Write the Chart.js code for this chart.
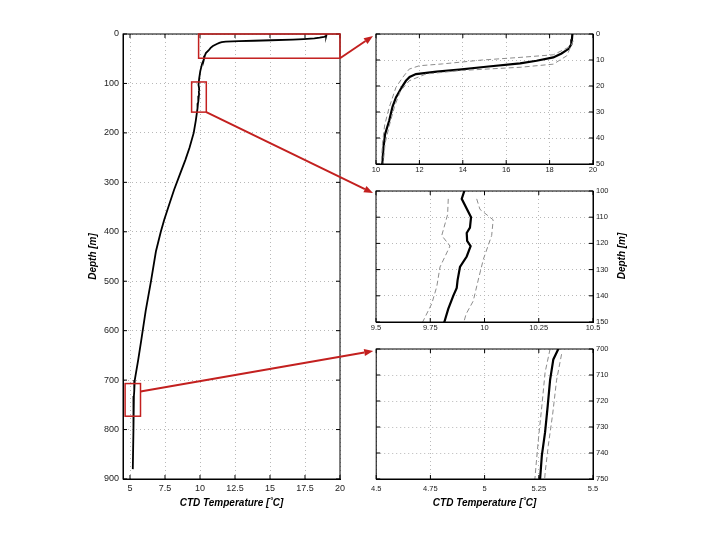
<!DOCTYPE html>
<html>
<head>
<meta charset="utf-8">
<script src="https://cdn.jsdelivr.net/npm/chart.js@4.4.1/dist/chart.umd.min.js"></script>
<style>
  body { margin: 0; background: #fff; }
  #page { position: relative; width: 720px; height: 540px; overflow: hidden; }
  .holder { position: absolute; }
  #arrows { position: absolute; left: 0; top: 0; pointer-events: none; }
  #depth_zoom2 {
    position: absolute; left: 621px; top: 256px; white-space: nowrap;
    font: italic bold 10px "Liberation Sans", Arial, sans-serif; color: #000;
    transform: translate(-50%, -50%) rotate(-90deg);
  }
</style>
</head>
<body>
<div id="page">
  <div class="holder" id="holder_main"><canvas id="chart_main"></canvas></div>
  <div class="holder" id="holder_z1"><canvas id="chart_z1"></canvas></div>
  <div class="holder" id="holder_z2"><canvas id="chart_z2"></canvas></div>
  <div class="holder" id="holder_z3"><canvas id="chart_z3"></canvas></div>
  <div id="depth_zoom2">Depth [m]</div>
  <canvas id="arrows" width="720" height="540"></canvas>
</div>
<script>
// CTD profile: depth (m) and mean temperature (deg C)
const depth = [0, 2, 4, 5.8, 7.5, 9, 10.3, 11.3, 12.6, 13.7, 14.5, 15.4, 16.5, 18, 20.3, 24.4, 28, 33.3, 38.5, 44,
  50, 60, 75, 90, 100, 103, 110, 114, 116, 119, 121, 125, 129, 134, 137, 140, 145, 150, 175, 200,
  230, 255, 285, 315, 345, 375, 400, 440, 500, 560, 620, 660, 700, 704, 712, 722, 732, 741, 750, 800, 880];
const temp = [19.05, 19.03, 19.0, 18.86, 18.55, 18.17, 17.4, 16.64, 15.07, 13.84, 12.8, 11.84, 11.55, 11.38, 11.2, 10.92, 10.76, 10.61, 10.42, 10.34,
  10.29, 10.15, 10.02, 9.94, 9.907, 9.895, 9.938, 9.933, 9.918, 9.92, 9.936, 9.918, 9.887, 9.876, 9.872, 9.856, 9.833, 9.815, 9.7, 9.55,
  9.25, 8.95, 8.55, 8.15, 7.8, 7.45, 7.2, 6.85, 6.5, 6.12, 5.8, 5.58, 5.34, 5.317, 5.302, 5.291, 5.279, 5.264, 5.256, 5.22, 5.2];

// grey dashed spread lines (only read inside the zoom windows), null = break
const coldDepth = [5, 8, 9, 10, 11.5, 12.2, 13.5, 16.7, 20.5, 28.2, 35, 42, 50, null,
  103, 109, 117, 121, 129, 136.5, 143, 150, null,
  700, 709, 722, 734, 745, 750];
const coldTemp = [18.9, 18.17, 16.64, 14.9, 13.07, 12.0, 11.53, 11.23, 10.92, 10.61, 10.4, 10.3, 10.24, null,
  9.833, 9.83, 9.803, 9.841, 9.795, 9.78, 9.757, 9.715, null,
  5.302, 5.279, 5.264, 5.249, 5.237, 5.232];
const warmDepth = [2.6, 8.4, 11.6, 12.8, 13.5, 14.1, 15.4, 18, 22, 28, 35, 42, 50, null,
  103, 107, 111, 117, 126, 134, 142, 147, 150, null,
  702, 712, 725, 737, 747, 750];
const warmTemp = [19.09, 18.79, 18.17, 16.64, 15.07, 13.84, 12.3, 11.53, 11.12, 10.85, 10.62, 10.42, 10.33, null,
  9.964, 9.979, 10.04, 10.033, 9.995, 9.971, 9.948, 9.915, 9.905, null,
  5.355, 5.332, 5.314, 5.294, 5.28, 5.277];

// tick labels
const mainTempTicks = [5, 7.5, 10, 12.5, 15, 17.5, 20];
const mainDepthTicks = [0, 100, 200, 300, 400, 500, 600, 700, 800, 900];
const zoomTempTicks = [
  [10, 12, 14, 16, 18, 20],
  [9.5, 9.75, 10, 10.25, 10.5],
  [4.5, 4.75, 5, 5.25, 5.5]
];
const zoomDepthTicks = [
  [0, 10, 20, 30, 40, 50],
  [100, 110, 120, 130, 140, 150],
  [700, 710, 720, 730, 740, 750]
];

// red boxes on the big plot: [tMin, tMax, dMin, dMax], and where each arrow leaves
const zoomBoxes = [[9.9, 20, 0, 49], [9.4, 10.45, 97, 158], [4.65, 5.75, 707, 773]];
const arrowFrom = [[20, 49], [10.45, 158], [5.75, 723]];

const FONT = '"Liberation Sans", Arial, Helvetica, sans-serif';
const RED = "#c3201f";
const TITLE_TEMP = "CTD Temperature [\u02DAC]";

function pts(ds, ts) {
  return ds.map((d, i) => (d === null ? { x: null, y: null } : { x: ts[i], y: d }));
}

function lastOf(a) { return a[a.length - 1]; }

function axis(pos, ticks, size, fontSize, pad, reverse, title) {
  return {
    type: "linear",
    position: pos,
    min: ticks[0],
    max: lastOf(ticks),
    reverse: reverse,
    afterBuildTicks: (s) => { s.ticks = ticks.map((v) => ({ value: v })); },
    afterFit: (s) => { if (s.isHorizontal()) s.height = size; else s.width = size; },
    grid: { color: "#b8b8b8", lineWidth: 1, drawTicks: false },
    border: { display: true, color: "#000", width: 1, dash: [1, 3] },
    ticks: {
      padding: pad, color: "#222", autoSkip: false, maxRotation: 0,
      font: { family: FONT, size: fontSize },
      callback: (v) => String(v)
    },
    title: title ? {
      display: true, text: title.text, color: "#000",
      font: { family: FONT, size: 10, style: "italic", weight: "bold" },
      padding: title.padding
    } : { display: false }
  };
}

// black frame with inward tick marks (matlab look)
const framePlugin = {
  id: "frame",
  afterDraw(chart) {
    const { ctx, chartArea: a } = chart;
    ctx.save();
    ctx.strokeStyle = "#000";
    ctx.lineWidth = 1;
    ctx.strokeRect(a.left, a.top, a.right - a.left, a.bottom - a.top);
    ctx.beginPath();
    const sx = chart.scales.x, sy = chart.scales.y;
    sx.ticks.forEach((t) => {
      const x = sx.getPixelForValue(t.value);
      ctx.moveTo(x, a.bottom); ctx.lineTo(x, a.bottom - 4);
      ctx.moveTo(x, a.top); ctx.lineTo(x, a.top + 4);
    });
    sy.ticks.forEach((t) => {
      const y = sy.getPixelForValue(t.value);
      ctx.moveTo(a.left, y); ctx.lineTo(a.left + 4, y);
      ctx.moveTo(a.right, y); ctx.lineTo(a.right - 4, y);
    });
    ctx.stroke();
    ctx.restore();
  }
};

const boxPlugin = {
  id: "zoomboxes",
  afterDraw(chart) {
    const { ctx } = chart;
    const sx = chart.scales.x, sy = chart.scales.y;
    ctx.save();
    ctx.strokeStyle = RED;
    ctx.lineWidth = 1.5;
    zoomBoxes.forEach(([t0, t1, d0, d1]) => {
      const x0 = sx.getPixelForValue(t0), x1 = sx.getPixelForValue(t1);
      const y0 = sy.getPixelForValue(d0), y1 = sy.getPixelForValue(d1);
      ctx.strokeRect(x0, y0, x1 - x0, y1 - y0);
    });
    ctx.restore();
  }
};

const layout = {
  main: { left: 80, top: 24, width: 270, height: 489 },
  z1: { left: 366, top: 24, width: 257, height: 154 },
  z2: { left: 366, top: 181, width: 257, height: 155 },
  z3: { left: 366, top: 339, width: 257, height: 174 }
};

function makeChart(id, datasets, scales, pad, extra) {
  const h = document.getElementById("holder_" + id);
  const L = layout[id];
  h.style.left = L.left + "px";
  h.style.top = L.top + "px";
  h.style.width = L.width + "px";
  h.style.height = L.height + "px";
  return new Chart(document.getElementById("chart_" + id), {
    type: "scatter",
    data: { datasets: datasets },
    options: {
      animation: false,
      responsive: true,
      maintainAspectRatio: false,
      events: [],
      layout: { padding: pad },
      plugins: { legend: { display: false }, tooltip: { enabled: false } },
      scales: scales
    },
    plugins: [framePlugin].concat(extra || [])
  });
}

function meanLine(w) {
  return {
    data: pts(depth, temp), showLine: true, borderColor: "#000", borderWidth: w,
    pointRadius: 0, tension: 0
  };
}
function spreadLine(ds, ts) {
  return {
    data: pts(ds, ts), showLine: true, borderColor: "#8c8c8c", borderWidth: 1,
    borderDash: [5, 3], pointRadius: 0, tension: 0
  };
}

const mainChart = makeChart("main", [meanLine(1.8)], {
  x: axis("bottom", [4.5, 20], 34, 9, 4, false, { text: TITLE_TEMP, padding: { top: 0, bottom: 4 } }),
  y: axis("left", mainDepthTicks, 43, 9, 4, true, { text: "Depth [m]", padding: { top: 7, bottom: 0 } })
}, { left: 0, top: 10, right: 10, bottom: 0 }, [boxPlugin]);
// main x runs from 4.5 but only labels 5..20
mainChart.options.scales.x.afterBuildTicks = (s) => { s.ticks = mainTempTicks.map((v) => ({ value: v })); };
mainChart.update();

const zoomCharts = ["z1", "z2", "z3"].map((id, i) => {
  const last = i === 2;
  return makeChart(id, [spreadLine(coldDepth, coldTemp), spreadLine(warmDepth, warmTemp), meanLine(2.2)], {
    x: axis("bottom", zoomTempTicks[i], last ? 34 : 14, 7.5, last ? 5 : 1, false,
      last ? { text: TITLE_TEMP, padding: { top: 0, bottom: 4 } } : null),
    y: axis("right", zoomDepthTicks[i], 30, 7.5, 3, true, null)
  }, { left: 10, top: 10, right: 0, bottom: 0 });
});

// red arrows from the boxes to the zoom panels
function drawArrows() {
  const ctx = document.getElementById("arrows").getContext("2d");
  ctx.clearRect(0, 0, 720, 540);
  ctx.strokeStyle = RED;
  ctx.fillStyle = RED;
  ctx.lineWidth = 2;
  zoomCharts.forEach((ch, i) => {
    const [t, d] = arrowFrom[i];
    const x0 = layout.main.left + mainChart.scales.x.getPixelForValue(t);
    const y0 = layout.main.top + mainChart.scales.y.getPixelForValue(d);
    const L = layout[["z1", "z2", "z3"][i]];
    const x1 = L.left + ch.chartArea.left - 3;
    const y1 = L.top + ch.chartArea.top + 2;
    const ang = Math.atan2(y1 - y0, x1 - x0);
    const hl = 9, hw = 3.5;
    const bx = x1 - hl * Math.cos(ang), by = y1 - hl * Math.sin(ang);
    ctx.beginPath();
    ctx.moveTo(x0, y0);
    ctx.lineTo(bx, by);
    ctx.stroke();
    ctx.beginPath();
    ctx.moveTo(x1, y1);
    ctx.lineTo(bx + hw * Math.sin(ang), by - hw * Math.cos(ang));
    ctx.lineTo(bx - hw * Math.sin(ang), by + hw * Math.cos(ang));
    ctx.closePath();
    ctx.fill();
  });
}
drawArrows();
</script>
</body>
</html>
